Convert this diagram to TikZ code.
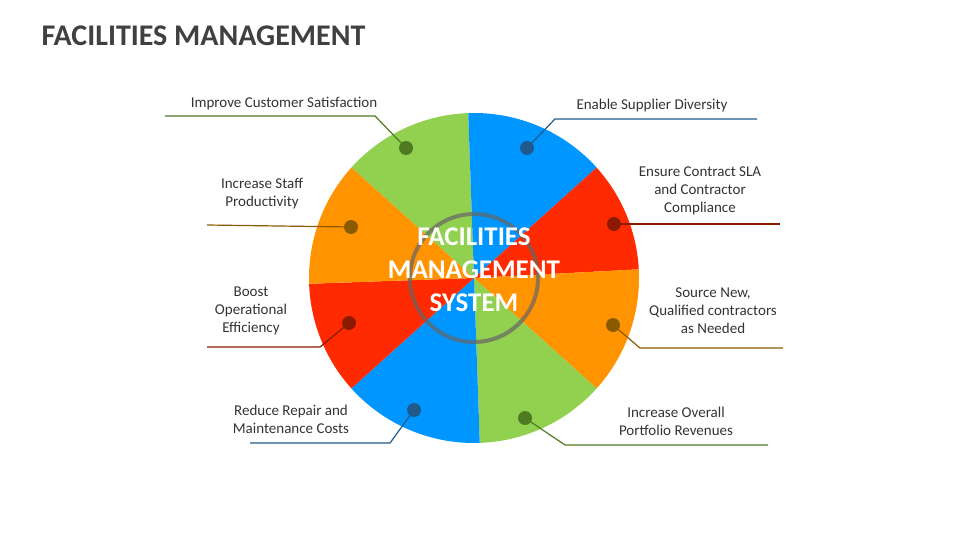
\documentclass[tikz,border=0pt]{standalone}
\usepackage{fontspec}
\setmainfont{Carlito}
\begin{document}
\begin{tikzpicture}[x=1pt,y=-1pt,
  lbl/.style={font=\fontsize{15}{18}\selectfont,text=black!80,align=center,inner sep=0pt},
  dot/.style={circle,minimum size=14pt,inner sep=0pt},
  lead/.style={line width=1.2pt}]
\definecolor{cg}{HTML}{92D050}\definecolor{cb}{HTML}{0096FF}
\definecolor{cr}{HTML}{FF2A00}\definecolor{co}{HTML}{FF9300}
\definecolor{dg}{HTML}{4E7A22}\definecolor{db}{HTML}{1F5A8A}
\definecolor{dr}{HTML}{8B1A00}\definecolor{do}{HTML}{8A5A00}
\useasboundingbox (0,0) rectangle (960,540);
\node[anchor=west,font=\bfseries\fontsize{30}{34}\selectfont,text=black!75] (title) at (38,36) {FACILITIES MANAGEMENT};
\coordinate (c) at (474,278);
\def\R{165}
\foreach \a/\b/\col in {92/138/cg,42/92/cb,3/42/cr,-42/3/co,-88/-42/cg,-138/-88/cb,182/222/cr,138/182/co}{
  \fill[\col] (c) -- ++(\a:\R pt) arc[start angle=\a,end angle=\b,radius=\R pt] -- cycle;}
% note: y flipped, so adjust via explicit angles
\draw[black!60,line width=4pt,opacity=0.7] (c) circle[radius=64pt];
\node[font=\bfseries\fontsize{27}{33}\selectfont,text=white,align=center] (ctr) at (474,270) {FACILITIES\\MANAGEMENT\\SYSTEM};
% dots
\node[dot,fill=dg] (d1) at (406,148) {};
\node[dot,fill=db] (d2) at (527,148) {};
\node[dot,fill=dr] (d3) at (614,224) {};
\node[dot,fill=do] (d4) at (613,325) {};
\node[dot,fill=dg] (d5) at (525,418) {};
\node[dot,fill=db] (d6) at (414,410) {};
\node[dot,fill=dr] (d7) at (349,323) {};
\node[dot,fill=do] (d8) at (351,227) {};
\coordinate (e1) at (165,116); \coordinate (e2) at (757,119);
\coordinate (e3) at (780,224); \coordinate (e4) at (783,348);
\coordinate (e5) at (768,445); \coordinate (e6) at (250,443);
\coordinate (e7) at (207,347); \coordinate (e8) at (207,225);
\draw[lead,dg] (d1.center) -- (375,116) -- (e1);
\draw[lead,db] (d2.center) -- (555,119) -- (e2);
\draw[lead,dr] (d3.center) -- (e3);
\draw[lead,do] (d4.center) -- (640,348) -- (e4);
\draw[lead,dg] (d5.center) -- (565,445) -- (e5);
\draw[lead,db] (d6.center) -- (390,443) -- (e6);
\draw[lead,dr] (d7.center) -- (320,347) -- (e7);
\draw[lead,do] (d8.center) -- (e8);
\node[lbl] (t1) at (284,104) {Improve Customer Satisfaction};
\node[lbl] (t2) at (652,106) {Enable Supplier Diversity};
\node[lbl] (t3) at (700,191) {Ensure Contract SLA\\and Contractor\\Compliance};
\node[lbl] (t4) at (713,311) {Source New,\\Qualified contractors\\as Needed};
\node[lbl] (t5) at (676,421) {Increase Overall\\Portfolio Revenues};
\node[lbl] (t6) at (291,419) {Reduce Repair and\\Maintenance Costs};
\node[lbl] (t7) at (251,311) {Boost\\Operational\\Efficiency};
\node[lbl] (t8) at (262,194) {Increase Staff\\Productivity};
\end{tikzpicture}
\end{document}
